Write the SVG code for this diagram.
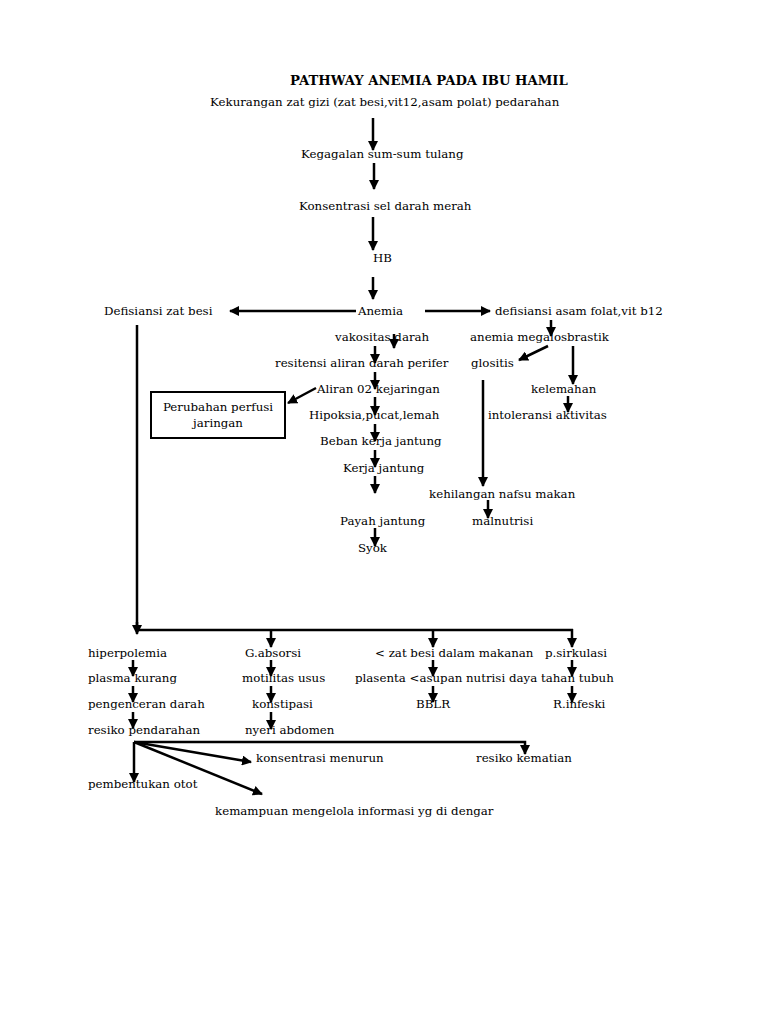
<svg xmlns="http://www.w3.org/2000/svg" width="768" height="1024" viewBox="0 0 768 1024">
<defs>
<marker id="ah" viewBox="0 0 10 10" refX="9" refY="5" markerWidth="10" markerHeight="10" markerUnits="userSpaceOnUse" orient="auto">
<path d="M0,0 L10,5 L0,10 z" fill="#000"/>
</marker>
<style>
text{font-family:"DejaVu Serif","Liberation Serif",serif;font-size:11.8px;fill:#000}
.title{font-weight:bold;font-size:13.2px}
.c{stroke:#000;stroke-width:2.5;fill:none;marker-end:url(#ah)}
.l{stroke:#000;stroke-width:2.5;fill:none}
.box{fill:#fff;stroke:#000;stroke-width:2}
</style>
</defs>
<rect width="768" height="1024" fill="#fff"/>
<text class="title" x="290" y="85">PATHWAY ANEMIA PADA IBU HAMIL</text>
<g id="n1"><text x="210" y="106">Kekurangan zat gizi (zat besi,vit12,asam polat) pedarahan</text></g>
<g id="n2"><text x="301" y="158">Kegagalan sum-sum tulang</text></g>
<g id="n3"><text x="299" y="210">Konsentrasi sel darah merah</text></g>
<g id="n4"><text x="373" y="262">HB</text></g>
<g id="n5"><text x="358" y="315">Anemia</text></g>
<g id="n6"><text x="104" y="315">Defisiansi zat besi</text></g>
<g id="n7"><text x="495" y="315">defisiansi asam folat,vit b12</text></g>
<g id="n8"><text x="335" y="341">vakositas darah</text></g>
<g id="n9"><text x="275" y="367">resitensi aliran darah perifer</text></g>
<g id="n10"><text x="317" y="393">Aliran 02 kejaringan</text></g>
<g id="n11"><text x="309" y="419">Hipoksia,pucat,lemah</text></g>
<g id="n12"><text x="320" y="445">Beban kerja jantung</text></g>
<g id="n13"><text x="343" y="472">Kerja jantung</text></g>
<g id="n14"><text x="340" y="525">Payah jantung</text></g>
<g id="n15"><text x="358" y="552">Syok</text></g>
<g id="n16"><rect class="box" x="151" y="392" width="134" height="46"/><text x="218" y="411" text-anchor="middle">Perubahan perfusi</text><text x="218" y="427" text-anchor="middle">jaringan</text></g>
<g id="n17"><text x="470" y="341">anemia megalosbrastik</text></g>
<g id="n18"><text x="471" y="367">glositis</text></g>
<g id="n19"><text x="531" y="393">kelemahan</text></g>
<g id="n20"><text x="488" y="419">intoleransi aktivitas</text></g>
<g id="n21"><text x="429" y="498">kehilangan nafsu makan</text></g>
<g id="n22"><text x="472" y="525">malnutrisi</text></g>
<g id="n23"><text x="88" y="657">hiperpolemia</text></g>
<g id="n24"><text x="88" y="682">plasma kurang</text></g>
<g id="n25"><text x="88" y="708">pengenceran darah</text></g>
<g id="n26"><text x="88" y="734">resiko pendarahan</text></g>
<g id="n27"><text x="245" y="657">G.absorsi</text></g>
<g id="n28"><text x="242" y="682">motilitas usus</text></g>
<g id="n29"><text x="252" y="708">konstipasi</text></g>
<g id="n30"><text x="245" y="734">nyeri abdomen</text></g>
<g id="n31"><text x="375" y="657">&lt; zat besi dalam makanan</text></g>
<g id="n32"><text x="355" y="682">plasenta &lt;asupan nutrisi daya tahan tubuh</text></g>
<g id="n33"><text x="416" y="708">BBLR</text></g>
<g id="n34"><text x="545" y="657">p.sirkulasi</text></g>
<g id="n35"><text x="553" y="708">R.infeski</text></g>
<g id="n36"><text x="256" y="762">konsentrasi menurun</text></g>
<g id="n37"><text x="476" y="762">resiko kematian</text></g>
<g id="n38"><text x="88" y="788">pembentukan otot</text></g>
<g id="n39"><text x="215" y="815">kemampuan mengelola informasi yg di dengar</text></g>
<g id="connectors">
<line class="c" x1="373" y1="118" x2="373" y2="150"/>
<line class="c" x1="374" y1="163" x2="374" y2="189"/>
<line class="c" x1="373" y1="217" x2="373" y2="250"/>
<line class="c" x1="373" y1="277" x2="373" y2="299"/>
<line class="c" x1="356" y1="311" x2="230" y2="311"/>
<line class="c" x1="425" y1="311" x2="490" y2="311"/>
<line class="c" x1="394" y1="334" x2="394" y2="348"/>
<line class="c" x1="375" y1="346" x2="375" y2="363"/>
<line class="c" x1="375" y1="372" x2="375" y2="389"/>
<line class="c" x1="375" y1="397" x2="375" y2="415"/>
<line class="c" x1="375" y1="424" x2="375" y2="441"/>
<line class="c" x1="375" y1="450" x2="375" y2="467"/>
<line class="c" x1="375" y1="476" x2="375" y2="493"/>
<line class="c" x1="375" y1="528" x2="375" y2="546"/>
<line class="c" x1="316" y1="388" x2="288" y2="403"/>
<line class="c" x1="551" y1="320" x2="551" y2="336"/>
<line class="c" x1="548" y1="346" x2="519" y2="360"/>
<line class="c" x1="573" y1="346" x2="573" y2="384"/>
<line class="c" x1="568" y1="396" x2="568" y2="412"/>
<line class="c" x1="483" y1="380" x2="483" y2="486"/>
<line class="c" x1="488" y1="500" x2="488" y2="518"/>
<polyline class="l" points="137,325 137,630 573,630"/>
<line class="c" x1="137" y1="622" x2="137" y2="634"/>
<line class="c" x1="271" y1="630" x2="271" y2="647"/>
<line class="c" x1="433" y1="630" x2="433" y2="647"/>
<line class="c" x1="572" y1="629" x2="572" y2="647"/>
<line class="c" x1="133" y1="660" x2="133" y2="676"/>
<line class="c" x1="133" y1="686" x2="133" y2="702"/>
<line class="c" x1="133" y1="712" x2="133" y2="728"/>
<line class="c" x1="271" y1="660" x2="271" y2="676"/>
<line class="c" x1="271" y1="686" x2="271" y2="702"/>
<line class="c" x1="271" y1="712" x2="271" y2="729"/>
<line class="c" x1="433" y1="660" x2="433" y2="676"/>
<line class="c" x1="433" y1="686" x2="433" y2="702"/>
<line class="c" x1="572" y1="660" x2="572" y2="676"/>
<line class="c" x1="572" y1="686" x2="572" y2="702"/>
<polyline class="c" points="134,742 525,742 525,754"/>
<line class="c" x1="134" y1="742" x2="134" y2="782"/>
<line class="c" x1="134" y1="742" x2="251" y2="762"/>
<line class="c" x1="134" y1="742" x2="262" y2="794"/>
</g>
</svg>
